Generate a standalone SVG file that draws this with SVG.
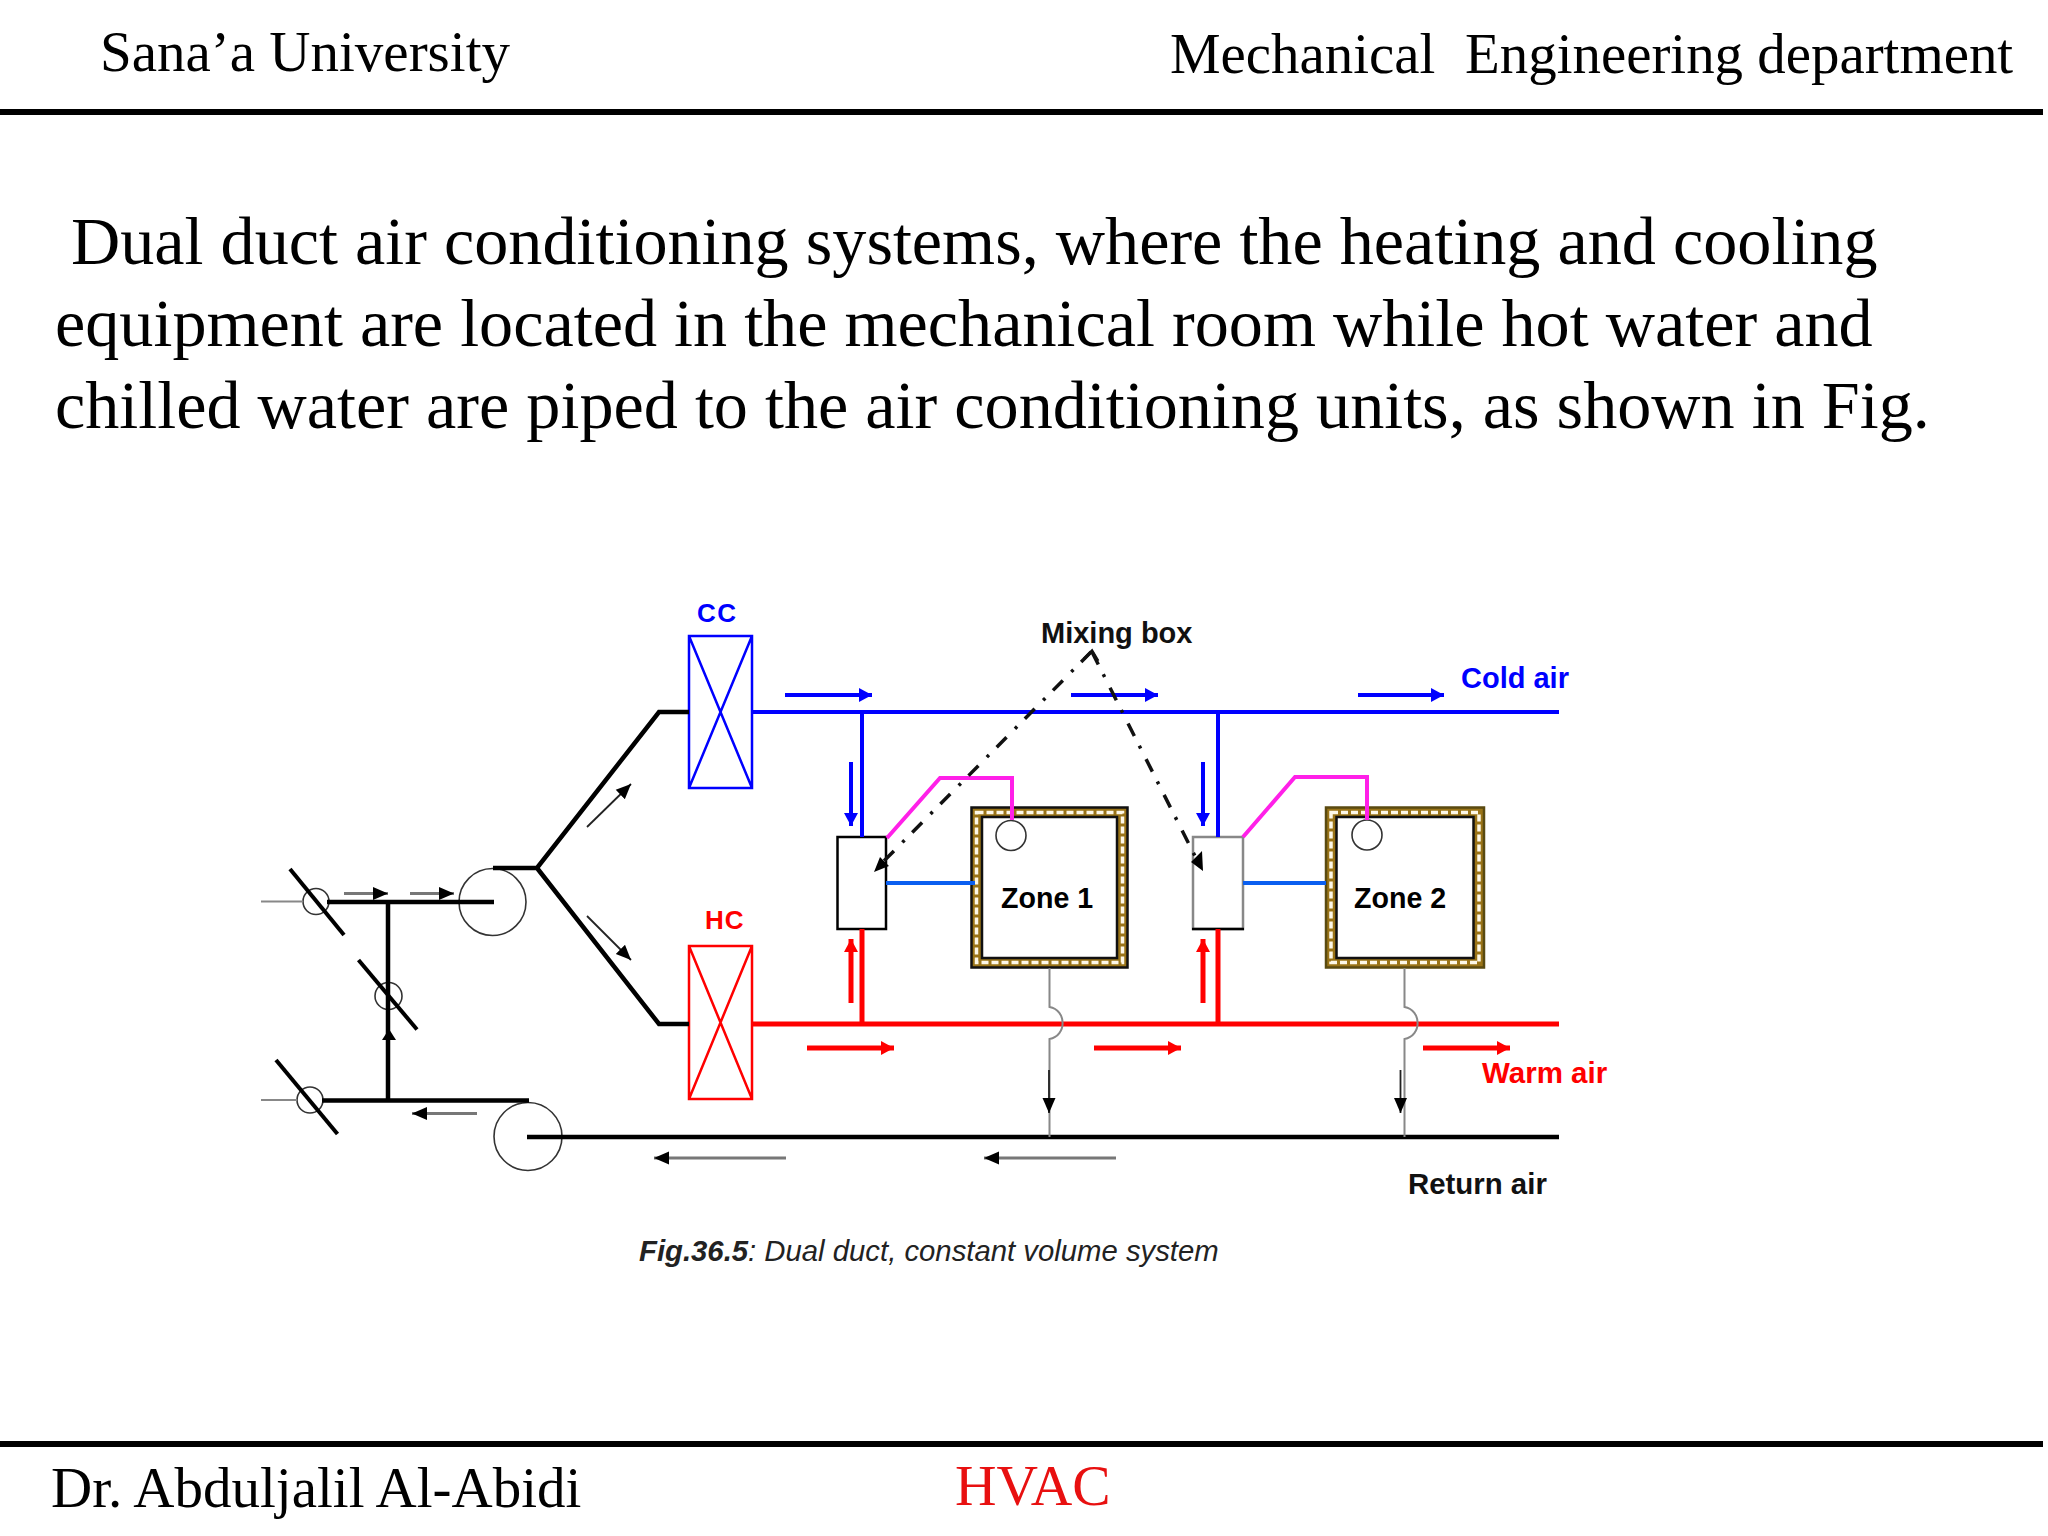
<svg xmlns="http://www.w3.org/2000/svg" width="2048" height="1536" viewBox="0 0 2048 1536">
<style>
.s{font-family:"Liberation Serif","Times New Roman",serif;fill:#000}
.a{font-family:"Liberation Sans",Arial,sans-serif;font-weight:bold}
.k{fill:none;stroke:#000;stroke-width:4.500}
.d{fill:none;stroke:#000;stroke-width:4}
.b{fill:none;stroke:#0000ff;stroke-width:4}
.r{fill:none;stroke:#ff0000;stroke-width:5}
.t{fill:none;stroke:#333;stroke-width:1.600}
.g{fill:none;stroke:#888;stroke-width:2}
.m{fill:none;stroke:#ff20e8;stroke-width:4}
.h{fill:none;stroke:#0a5ff0;stroke-width:4}
.band{fill:none;stroke:#9a7418;stroke-width:11}
.dash{fill:none;stroke:#fdf8e8;stroke-width:3.500;stroke-dasharray:7 3}
.edge{fill:none;stroke:#111;stroke-width:2.500}
.box{fill:#fff;stroke:#000;stroke-width:2.500}
.md{fill:none;stroke:#111;stroke-width:3.500;stroke-dasharray:14 11 3 12}
.ab{fill:none;stroke:#0000ff;stroke-width:4;marker-end:url(#hb)}
.ar{fill:none;stroke:#ff0000;stroke-width:5;marker-end:url(#hr)}
.ag{fill:none;stroke:#777;stroke-width:3;marker-end:url(#hk)}
.at{fill:none;stroke:#222;stroke-width:1.800;marker-end:url(#hk)}
</style>
<defs>
<marker id="hb" markerUnits="userSpaceOnUse" markerWidth="14" markerHeight="16" refX="13" refY="8" orient="auto"><path d="M0 1L13 8L0 15Z" fill="#0000ff"/></marker>
<marker id="hr" markerUnits="userSpaceOnUse" markerWidth="14" markerHeight="16" refX="13" refY="8" orient="auto"><path d="M0 1L13 8L0 15Z" fill="#ff0000"/></marker>
<marker id="hk" markerUnits="userSpaceOnUse" markerWidth="16" markerHeight="16" refX="15" refY="8" orient="auto"><path d="M0 1.500L15 8L0 14.500Z" fill="#000"/></marker>
</defs>
<g id="page">
<text class="s" x="100" y="71" font-size="57">Sana’a University</text>
<text class="s" x="1170" y="73" font-size="56.900">Mechanical</text>
<text class="s" x="1465" y="73" font-size="56.900">Engineering department</text>
<rect x="0" y="109" width="2043" height="6"/>
<text class="s" x="71" y="264" font-size="68.200">Dual duct air conditioning systems, where the heating and cooling</text>
<text class="s" x="55" y="346" font-size="68.200">equipment are located in the mechanical room while hot water and</text>
<text class="s" x="55" y="428" font-size="68.200">chilled water are piped to the air conditioning units, as shown in Fig.</text>
<rect x="0" y="1441" width="2043" height="6"/>
<text class="s" x="51" y="1507" font-size="57">Dr. Abduljalil Al-Abidi</text>
<text class="s" x="955" y="1505" font-size="57.500" style="fill:#e81010">HVAC</text>
</g>
<g id="damper-1"><circle class="t" cx="316" cy="901.500" r="13"/><path class="d" d="M290 869L344 935"/></g>
<g id="damper-2"><circle class="t" cx="388.500" cy="996" r="13.500"/><path class="d" d="M358.500 960L417 1029.500"/></g>
<g id="damper-3"><circle class="t" cx="310" cy="1100" r="13"/><path class="d" d="M276 1060L337.500 1134"/></g>
<g id="supply-fan"><circle class="t" cx="492.500" cy="902" r="33.500"/></g>
<g id="return-fan"><circle class="t" cx="528" cy="1136.500" r="34"/></g>
<g id="cc"><path d="M689 636H752V788H689ZM689 636L752 788M752 636L689 788" fill="none" stroke="#0000ff" stroke-width="2.500"/><text class="a" x="697" y="622" font-size="26" letter-spacing="1.500" fill="#0000ff">CC</text></g>
<g id="hc"><path d="M689 946H752V1099H689ZM689 946L752 1099M752 946L689 1099" fill="none" stroke="#ff0000" stroke-width="2.500"/><text class="a" x="705" y="929" font-size="26" letter-spacing="1" fill="#ff0000">HC</text></g>
<g id="mixing-box-1"><rect class="box" x="837.500" y="837" width="48.500" height="92"/></g>
<g id="mixing-box-2"><rect x="1193" y="837" width="50" height="92" fill="#fff" stroke="#888" stroke-width="2.500"/><path d="M1192 929H1244" stroke="#000" stroke-width="2.500"/></g>
<g id="zone-1"><rect class="band" x="976.500" y="812.500" width="146" height="150"/><rect class="edge" x="971.500" y="807.500" width="156" height="160"/><rect class="edge" x="982" y="817" width="135" height="141"/><rect class="dash" x="976.500" y="812.500" width="146" height="150"/><circle class="t" cx="1011" cy="835.500" r="15"/><text class="a" x="1001" y="908" font-size="28.600">Zone 1</text></g>
<g id="zone-2"><rect class="band" x="1331" y="812.500" width="148" height="150"/><rect class="edge" x="1326" y="807.500" width="158" height="160" style="stroke:#5a4a10"/><rect class="edge" x="1336.500" y="817" width="137" height="141"/><rect class="dash" x="1331" y="812.500" width="148" height="150"/><circle class="t" cx="1367" cy="835" r="15"/><text class="a" x="1354" y="908" font-size="28.600">Zone 2</text></g>
<g id="connectors">
<path class="k" d="M493 868H537L659 712H689M537 868L659 1024H689"/>
<path class="k" d="M327 902H494M388 902V1100M322 1100.500H529M527 1137H1559"/>
<path class="g" d="M261 901.500H303M261 1100H297"/>
<path class="b" d="M752 712H1559M862 712V837M1218 712V837"/>
<path class="r" d="M752 1024H1559M862 929V1024M1218 929V1024"/>
<path class="m" d="M887 838L940 778H1012V820M1243 837L1295 777H1367V820"/>
<path class="h" d="M886 883H975M1243 883H1326"/>
<path class="g" d="M1049.500 968V1007C1067 1010 1067 1036 1049.500 1039V1137M1404.500 968V1007C1422 1010 1422 1036 1404.500 1039V1137"/>
<g id="flow-arrows">
<path class="ab" d="M785 695H872"/><path class="ab" d="M1071 695H1158"/><path class="ab" d="M1358 695H1444"/><path class="ab" d="M851 762V826"/><path class="ab" d="M1203 762V826"/>
<path class="ar" d="M807 1048H894"/><path class="ar" d="M1094 1048H1181"/><path class="ar" d="M1423 1048H1510"/><path class="ar" d="M851 1003V939"/><path class="ar" d="M1203 1003V939"/>
<path class="ag" d="M344 893.500H388"/><path class="ag" d="M410 893.500H454"/><path class="ag" d="M477 1113.500H412"/><path class="ag" d="M786 1158H654"/><path class="ag" d="M1116 1158H984"/>
<path class="at" d="M587 827L631 784"/><path class="at" d="M587 916L631 960"/><path class="at" d="M1049 1070V1113"/><path class="at" d="M1400.500 1070V1113"/>
<path fill="#000" d="M389 1029L396 1040H382Z"/>
</g>
<path class="md" d="M1091 652L877 868"/>
<path class="md" d="M1092 652L1200 866"/>
<path d="M1084 659L1092 651L1098 661" fill="none" stroke="#111" stroke-width="3"/>
<path d="M874 872L880 857L889 866Z M1203 871L1191 862L1202 851Z" fill="#000"/>
</g>
<g id="labels">
<text class="a" x="1041" y="643" font-size="29" fill="#111">Mixing box</text>
<text class="a" x="1461" y="688" font-size="29" fill="#0000ff">Cold air</text>
<text class="a" x="1482" y="1083" font-size="29.500" fill="#ff0000">Warm air</text>
<text class="a" x="1408" y="1194" font-size="29.400" fill="#111">Return air</text>
<text x="639" y="1261" font-family="Liberation Sans,Arial,sans-serif" font-style="italic" font-size="29.300" fill="#222"><tspan font-weight="bold">Fig.36.5</tspan>: Dual duct, constant volume system</text>
</g>
</svg>
